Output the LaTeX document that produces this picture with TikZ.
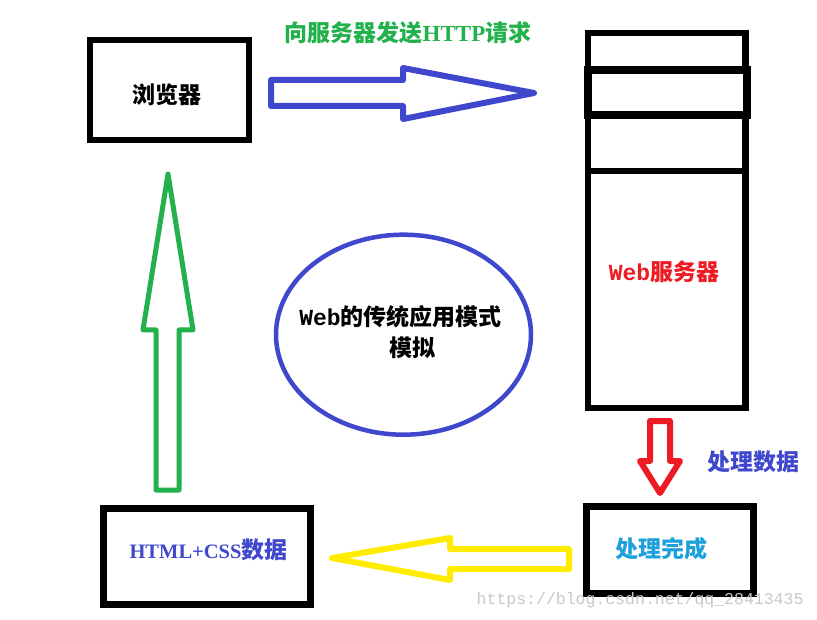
\documentclass[tikz,border=0pt]{standalone}
\usepackage{fontspec}
\usetikzlibrary{shapes.geometric}
\setmainfont{Liberation Serif}
\newfontfamily\cjk{Noto Sans CJK SC}
\newfontfamily\latserif{Liberation Serif}
\newfontfamily\latmono{Liberation Mono}
\definecolor{pblue}{RGB}{63,72,204}
\definecolor{pgreen}{RGB}{34,177,76}
\definecolor{pred}{RGB}{237,28,36}
\definecolor{pyellow}{RGB}{255,236,0}
\definecolor{pturq}{RGB}{30,160,220}
\definecolor{wmgray}{RGB}{200,200,200}
\tikzset{
  box/.style={draw=black, line width=6.5pt, rectangle, inner sep=0pt, fill=white},
  lbl/.style={inner sep=0pt, font=\cjk\bfseries\fontsize{23}{26}\selectfont},
  blockarrow/.style={line width=6pt, line join=round},
}
\begin{document}
\begin{tikzpicture}[x=1pt, y=-1pt]
\useasboundingbox[fill=white] (0,0) rectangle (817,620);

% boxes
\node[box, minimum width=159pt, minimum height=100pt] (browser) at (169.5,90) {};
\node[box, minimum width=157.5pt, minimum height=375pt] (server) at (666.75,220.5) {};
\node[box, line width=8pt, minimum width=159pt, minimum height=45pt] (rack) at (667.5,92.5) {};
\draw[line width=6pt] (server.west |- {(0,171)}) -- (server.east |- {(0,171)});
\node[box, minimum width=207pt, minimum height=96pt] (html) at (206.8,556.7) {};
\node[box, line width=7pt, minimum width=167pt, minimum height=86.5pt] (done) at (669.5,550) {};
\node[draw=pblue, line width=4.5pt, ellipse, minimum width=255pt, minimum height=200pt, inner sep=0pt] (core) at (403.5,334.7) {};

% texts
\node[lbl, text=black] (tbrowser) at (167,95) {浏览器};
\node[lbl, text=pgreen] (treq) at (408,33) {向服务器发送{\latserif\bfseries HTTP}请求};
\node[lbl, text=pred] (tserver) at (664,271.5) {{\latmono\bfseries Web}服务器};
\node[lbl, text=black] (tcore1) at (400.5,317) {{\latmono\bfseries Web}的传统应用模式};
\node[lbl, text=black] (tcore2) at (412.5,348) {模拟};
\node[lbl, text=pblue] (tproc) at (753.5,461.5) {处理数据};
\node[lbl, text=pblue] (thtml) at (208.5,550) {{\latserif\bfseries\fontsize{20.5}{24}\selectfont HTML+CSS}数据};
\node[lbl, text=pturq] (tdone) at (661.5,548.3) {处理完成};
\node[anchor=west, inner sep=0pt, text=wmgray, font=\latmono\fontsize{16.5}{18}\selectfont] (wm) at (476.5,600) {https://blog.csdn.net/qq\_28413435};

% block arrows
\draw[blockarrow, draw=pblue] (271,80) -- (403,80) -- (403,68) -- (534,93) -- (403,119) -- (403,106) -- (271,106) -- cycle;
\draw[blockarrow, draw=pred] (650,421) -- (670,421) -- (670,461) -- (680,461) -- (660,493) -- (640,461) -- (650,461) -- cycle;
\draw[blockarrow, draw=pyellow] (569,549) -- (450,549) -- (450,538) -- (332,558) -- (450,580) -- (450,569) -- (569,569) -- cycle;
\draw[blockarrow, line width=5pt, draw=pgreen] (156,490) -- (156,330) -- (143,330) -- (168,174) -- (193,330) -- (179,330) -- (179,490) -- cycle;
\end{tikzpicture}
\end{document}
